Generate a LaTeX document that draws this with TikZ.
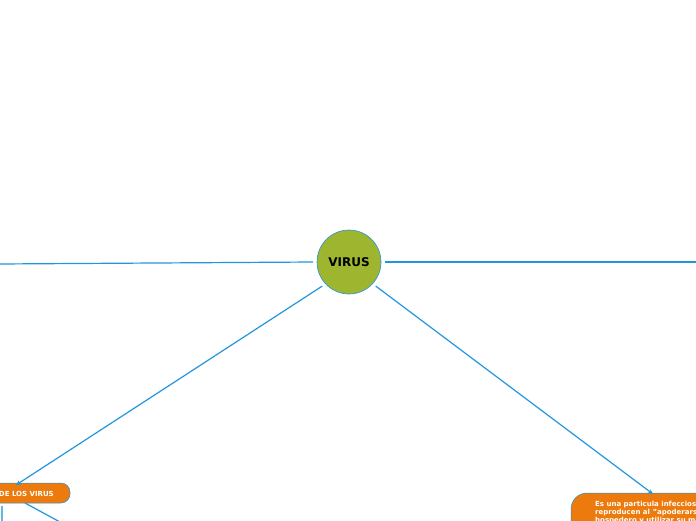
\documentclass[tikz,border=0pt]{standalone}
\usepackage{fontspec}
\setmainfont{DejaVu Sans}
\usetikzlibrary{arrows.meta}
\definecolor{linkblue}{HTML}{2196DE}
\definecolor{circgreen}{HTML}{9DB52F}
\definecolor{topicorange}{HTML}{EC7A0C}
\tikzset{
  link/.style={draw=linkblue, line width=1.2pt},
  arrowlink/.style={link, -{Stealth[length=5pt,width=4.5pt]}},
  topic/.style={fill=topicorange, draw=linkblue, line width=0.5pt},
  lbl/.style={text=white, font=\bfseries\fontsize{7}{8}\selectfont, inner sep=0pt}
}
\begin{document}
\begin{tikzpicture}[x=1pt,y=-1pt]
\useasboundingbox (0,0) rectangle (696,520);
\clip (0,0) rectangle (696,520);
\fill[white] (0,0) rectangle (696,520);
% central node
\node[circle, minimum size=64pt, fill=circgreen, draw=linkblue, line width=0.6pt, inner sep=0pt,
      outer sep=4pt, font=\bfseries\fontsize{12}{14}\selectfont] (virus) at (349,262) {VIRUS};
% off-canvas endpoints
\coordinate (lend) at (-2,264);
\coordinate (rend) at (698,262);
% bottom-left topic
\path[topic, rounded corners=9pt] (-60,483) rectangle (70,503);
\node[lbl, anchor=east] (deviruses) at (54,493.5) {DE LOS VIRUS};
\coordinate (bltop) at (16,485);
\coordinate (blbot) at (25,503);
\coordinate (blout) at (60,522);
\coordinate (vtop) at (1.5,506);
\coordinate (vbot) at (1.5,522);
% bottom-right topic
\path[topic, rounded corners=16pt] (571,493) rectangle (760,560);
\node[lbl, anchor=north west, align=left] (defin) at (595,501)
  {Es una particula infecciosa que se\\reproducen al "apoderarse" de una célula\\hospedero y utilizar su maquinaria};
\coordinate (brtop) at (653,494);
% connectors
\draw[link] (virus.west) -- (lend);
\draw[link] (virus.east) -- (rend);
\draw[arrowlink] (virus.222) -- (bltop);
\draw[arrowlink] (virus.318) -- (brtop);
\draw[link] (blbot) -- (blout);
\draw[draw=linkblue!70, line width=2pt] (vtop) -- (vbot);
\end{tikzpicture}
\end{document}
